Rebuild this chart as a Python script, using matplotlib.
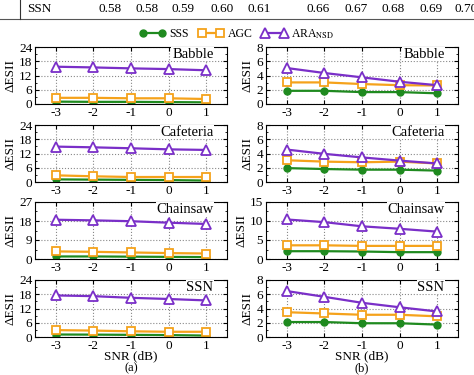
import matplotlib
matplotlib.use("Agg")
import matplotlib.pyplot as plt
from matplotlib.ticker import MultipleLocator, AutoMinorLocator

plt.rcParams['font.family'] = ['Liberation Serif', 'DejaVu Serif']
plt.rcParams['mathtext.fontset'] = 'stix'

# data
snr = [-3, -2, -1, 0, 1]
noises = ['Babble', 'Cafeteria', 'Chainsaw', 'SSN']

# column (a)
sss_a = [[1.0, 0.9, 0.9, 0.8, 0.7],
         [1.1, 1.0, 0.9, 0.8, 0.6],
         [1.2, 1.2, 1.1, 1.0, 0.9],
         [1.05, 1.0, 0.9, 0.8, 0.6]]
agc_a = [[2.6, 2.6, 2.4, 2.4, 2.1],
         [2.8, 2.4, 2.1, 2.1, 2.1],
         [3.6, 3.4, 3.1, 2.8, 2.6],
         [2.9, 2.7, 2.4, 2.2, 2.2]]
ara_a = [[15.7, 15.4, 15.0, 14.7, 14.2],
         [14.9, 14.6, 14.2, 13.75, 13.5],
         [18.6, 18.3, 17.9, 17.2, 16.6],
         [17.5, 17.2, 16.5, 16.0, 15.4]]

# column (b)
sss_b = [[1.85, 1.85, 1.67, 1.67, 1.5],
         [1.95, 1.82, 1.73, 1.73, 1.6],
         [2.05, 2.05, 1.97, 1.8, 1.8],
         [2.1, 2.1, 1.93, 1.93, 1.74]]
agc_b = [[3.03, 3.03, 2.8, 2.64, 2.6],
         [3.05, 2.86, 2.77, 2.86, 2.6],
         [3.6, 3.6, 3.45, 3.45, 3.45],
         [3.48, 3.3, 3.12, 3.12, 2.9]]
ara_b = [[5.05, 4.35, 3.74, 3.12, 2.64],
         [4.55, 3.95, 3.45, 3.0, 2.6],
         [10.4, 9.7, 8.6, 7.95, 7.2],
         [6.45, 5.64, 4.8, 4.17, 3.58]]

ylims_a = [(24, 6), (24, 6), (27, 9), (24, 6)]
ylims_b = [(8, 2), (8, 2), (15, 5), (8, 2)]

# table row fragment above the figure
table_label = 'SSN'
table_vals = ['0.58', '0.58', '0.59', '0.60', '0.61', '0.66', '0.67', '0.68', '0.69', '0.70']
table_x = [110, 147, 183, 222, 259, 318, 356, 393, 431, 466]

W, H = 474, 375
fig = plt.figure(figsize=(W / 100, H / 100), dpi=100)

# table fragment
fig.text(27 / W, 1 - 9 / H, table_label, fontsize=9.5, va='center', ha='left')
for x, v in zip(table_x, table_vals):
    fig.text(x / W, 1 - 9 / H, v, fontsize=9.5, va='center', ha='center')
fig.add_artist(plt.Line2D([0, 1], [1 - 18.5 / H] * 2, color='#555555', lw=0.8))
fig.add_artist(plt.Line2D([20 / W] * 2, [1 - 18.5 / H, 1], color='#333333', lw=0.8))

green = '#1f8a1f'
orange = '#f5a21b'
purple = '#7a2fc8'

lefts = [35, 266]
width = 192
bottoms = [104, 182, 259, 337]
height = 57

cols = [(sss_a, agc_a, ara_a, ylims_a), (sss_b, agc_b, ara_b, ylims_b)]

handles = None
for c, (sss, agc, ara, ylims) in enumerate(cols):
    for r in range(4):
        ax = fig.add_axes([lefts[c] / W, 1 - bottoms[r] / H, width / W, height / H])
        ax.grid(True, linestyle=':', color='#888888', lw=0.8)
        ax.set_axisbelow(True)
        h1, = ax.plot(snr, sss[r], '-o', color=green, lw=1.6, ms=5,
                      mfc=green, mec=green, label='SSS')
        h2, = ax.plot(snr, agc[r], '-s', color=orange, lw=1.6, ms=5.5,
                      mfc='white', mec=orange, mew=1.3, label='AGC')
        h3, = ax.plot(snr, ara[r], '-^', color=purple, lw=1.6, ms=6.5,
                      mfc='white', mec=purple, mew=1.3, label=r'ARA$_{\mathrm{NSD}}$')
        handles = [h1, h2, h3]
        top, step = ylims[r]
        ax.set_ylim(0, top)
        ax.yaxis.set_major_locator(MultipleLocator(step))
        ax.yaxis.set_minor_locator(AutoMinorLocator(2))
        ax.set_xlim(-3.55, 1.55)
        ax.set_xticks(snr)
        ax.set_xticklabels(['-3', '-2', '-1', '0', '1'])
        ax.tick_params(direction='in', top=True, right=True, labelsize=9.5, pad=2,
                       length=3)
        ax.tick_params(which='minor', direction='in', right=True, length=1.5)
        ax.set_ylabel('ΔESII', fontsize=9.5, labelpad=2)
        ax.text(0.93, 0.875, noises[r], transform=ax.transAxes, ha='right',
                va='center', fontsize=10.5,
                bbox=dict(facecolor='white', edgecolor='none', pad=0.5))
        if r == 3:
            ax.set_xlabel('SNR (dB)', fontsize=9.5, labelpad=-1)
            ax.text(0.5, -0.55, '(a)' if c == 0 else '(b)', transform=ax.transAxes,
                    ha='center', va='center', fontsize=9)

fig.legend(handles=handles, loc='center', bbox_to_anchor=(237 / W, 1 - 34 / H),
           ncol=3, frameon=False, fontsize=8.5, numpoints=2, handlelength=2.2,
           handletextpad=0.3, columnspacing=0.8)

fig.savefig('out.png', dpi=100)
